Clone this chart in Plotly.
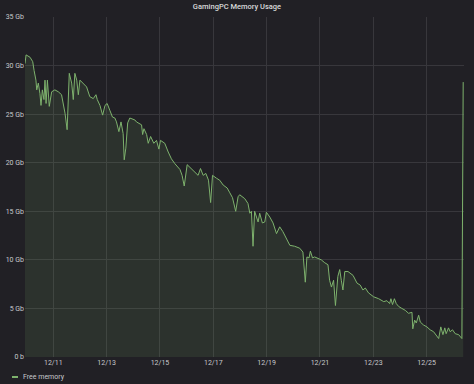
import pandas as pd
import plotly.graph_objects as go

# December day-of-month with fraction (11.0 = 12/11 00:00)
dec_day = [9.94, 9.98, 10.13, 10.23, 10.28, 10.35, 10.38, 10.44, 10.50, 10.54, 10.59, 10.65, 10.69,
           10.73, 10.78, 10.85, 10.94, 11.06, 11.19, 11.31, 11.44, 11.52, 11.60, 11.69, 11.75, 11.81,
           11.88, 11.94, 12.00, 12.12, 12.25, 12.37, 12.50, 12.60, 12.65, 12.75, 12.85, 12.94, 13.02,
           13.12, 13.22, 13.31, 13.37, 13.46, 13.54, 13.62, 13.66, 13.72, 13.79, 13.87, 14.06, 14.12,
           14.31, 14.35, 14.40, 14.50, 14.56, 14.65, 14.77, 14.87, 14.96, 15.02, 15.18, 15.31, 15.43,
           15.56, 15.75, 15.83, 15.91, 16.02, 16.18, 16.31, 16.43, 16.52, 16.62, 16.72, 16.82, 16.90,
           16.97, 17.12, 17.24, 17.37, 17.52, 17.62, 17.72, 17.84, 17.93, 17.99, 18.18, 18.30, 18.37,
           18.43, 18.49, 18.55, 18.68, 18.74, 18.84, 18.93, 18.99, 19.12, 19.24, 19.37, 19.49, 19.61,
           19.74, 19.87, 20.05, 20.24, 20.36, 20.40, 20.45, 20.51, 20.59, 20.64, 20.72, 20.80, 20.93,
           21.05, 21.18, 21.30, 21.36, 21.43, 21.51, 21.58, 21.67, 21.74, 21.80, 21.86, 21.93, 22.05,
           22.24, 22.33, 22.39, 22.51, 22.61, 22.70, 22.82, 23.01, 23.20, 23.39, 23.51, 23.61, 23.66,
           23.72, 23.79, 23.86, 23.95, 24.07, 24.20, 24.32, 24.45, 24.48, 24.55, 24.61, 24.70, 24.76,
           24.88, 25.01, 25.13, 25.26, 25.38, 25.45, 25.53, 25.61, 25.68, 25.73, 25.82, 25.88, 25.97,
           26.07, 26.20, 26.28, 26.32, 26.37]

free_gb = [30.2, 31.1, 30.85, 30.4, 29.5, 28.5, 27.5, 28.2, 27.1, 25.9, 27.5, 26.5, 28.5,
           26.1, 28.5, 25.8, 27.3, 27.5, 27.3, 27.0, 25.1, 23.4, 29.2, 28.2, 26.5, 29.2,
           28.5, 27.0, 28.5, 28.2, 27.8, 26.8, 26.6, 27.0, 26.5, 25.9, 24.9, 25.9, 26.1,
           25.4, 24.7, 24.6, 24.2, 23.2, 24.2, 23.0, 20.3, 21.5, 24.1, 24.6, 24.4, 24.2,
           23.9, 22.9, 23.5, 22.9, 22.0, 22.7, 22.0, 22.3, 21.4, 22.3, 22.0, 21.1, 20.4,
           19.9, 19.3, 18.7, 17.6, 19.8, 19.4, 19.1, 18.7, 19.4, 18.7, 18.9, 18.2, 15.9,
           18.7, 18.4, 18.2, 17.7, 17.4, 16.9, 16.4, 15.0, 16.5, 16.7, 16.3, 15.8, 14.8,
           15.0, 11.4, 15.0, 13.9, 14.8, 13.8, 13.9, 14.9, 14.4, 13.8, 12.7, 13.4, 12.9,
           12.2, 11.5, 11.4, 11.2, 10.8, 9.3, 7.7, 10.3, 10.2, 10.9, 10.2, 10.3, 10.1,
           10.0, 9.7, 9.5, 7.9, 7.2, 7.9, 5.3, 8.3, 9.0, 7.9, 6.9, 8.8, 8.8,
           8.4, 7.9, 7.6, 7.4, 6.9, 7.1, 6.6, 6.2, 6.0, 5.7, 5.8, 5.5, 6.0,
           5.4, 6.0, 5.5, 5.2, 5.0, 4.8, 4.5, 4.6, 2.9, 3.8, 3.5, 4.3, 3.6,
           3.3, 3.1, 2.8, 2.6, 2.1, 1.9, 3.1, 2.3, 3.0, 2.4, 3.0, 2.6, 2.8,
           2.4, 2.3, 2.1, 1.9, 28.3]

x_range_days = [9.94, 26.40]
x_tick_days = [11, 13, 15, 17, 19, 21, 23, 25]
x_tick_labels = ["12/11", "12/13", "12/15", "12/17", "12/19", "12/21", "12/23", "12/25"]
y_tick_vals = [0, 5, 10, 15, 20, 25, 30, 35]
y_tick_labels = ["0 b", "5 Gb", "10 Gb", "15 Gb", "20 Gb", "25 Gb", "30 Gb", "35 Gb"]
series_name = "Free memory"

base = pd.Timestamp("2020-12-01")


def to_time(days):
    return [base + pd.to_timedelta(d - 1, unit="D") for d in days]


BG = "#212025"
GRID = "#38373c"
TEXT = "#c7c8cc"
GREEN = "#7eb26d"
FONT = "Roboto"

PW, PH = 439, 340  # plot area size in px (for paper-relative legend placement)

fig = go.Figure()
fig.add_trace(go.Scatter(
    x=to_time(dec_day), y=free_gb, mode="lines", name=series_name,
    line=dict(color=GREEN, width=1),
    fill="tozeroy", fillcolor="rgba(126,178,109,0.12)",
    showlegend=False,
))

legend_y = -20 / PH
fig.update_layout(
    width=474, height=384,
    paper_bgcolor=BG, plot_bgcolor=BG,
    margin=dict(l=25, r=10, t=17, b=27),
    title=dict(text="GamingPC Memory Usage", x=0.5, xref="container", xanchor="center",
               y=1 - 6 / 384, yref="container", yanchor="middle",
               font=dict(family=FONT, size=7.5, color="#d8d9da", weight=500)),
    font=dict(family=FONT, size=7, color=TEXT),
    xaxis=dict(range=to_time(x_range_days), tickvals=to_time(x_tick_days), ticktext=x_tick_labels,
               showgrid=True, gridcolor=GRID, gridwidth=1, zeroline=False, showline=False,
               ticks="", automargin=False, tickfont=dict(family=FONT, size=7, color=TEXT)),
    yaxis=dict(range=[0, 35], tickvals=y_tick_vals, ticktext=y_tick_labels,
               showgrid=True, gridcolor=GRID, gridwidth=1, zeroline=False, showline=False,
               ticks="", automargin=False, tickfont=dict(family=FONT, size=7, color=TEXT)),
    shapes=[dict(type="line", xref="paper", yref="paper",
                 x0=-13 / PW, x1=-7 / PW, y0=legend_y, y1=legend_y,
                 line=dict(color=GREEN, width=2))],
    annotations=[dict(text=series_name,
                      xref="paper", yref="paper", x=-4.5 / PW, y=legend_y,
                      xanchor="left", yanchor="middle", showarrow=False,
                      font=dict(family=FONT, size=7, color=TEXT))],
)

fig.write_html("out.html", config={"displayModeBar": False},
               post_script="document.body.style.margin='0';document.body.style.background='#212025';")
